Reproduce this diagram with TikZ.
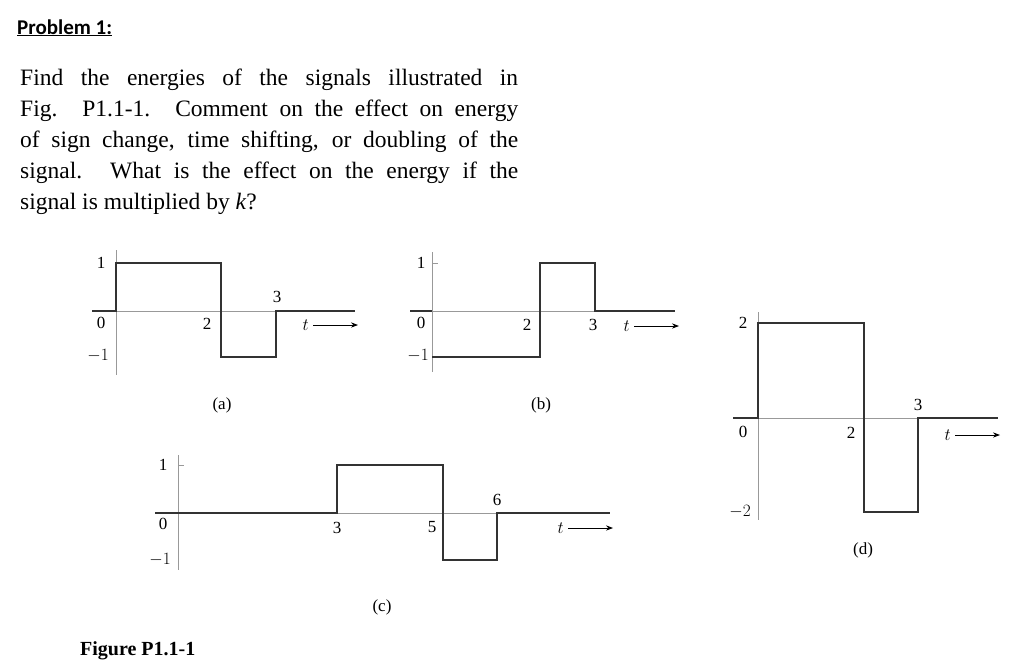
\documentclass[tikz,border=0pt]{standalone}
\usepackage{fontspec}
\setmainfont{Liberation Serif}
\newfontfamily\calib{Carlito}
\usetikzlibrary{arrows.meta}
\tikzset{
  axisline/.style={draw=gray!80, line width=0.9pt},
  sigline/.style={draw=black!80, line width=2.4pt, line join=miter},
  lbl/.style={font=\fontsize{17}{17}\selectfont, inner sep=1pt},
  para/.style={anchor=base west, inner sep=0pt, font=\fontsize{23.5}{30}\selectfont},
  tarrow/.style={-{Stealth[length=7pt]}, line width=0.8pt}
}
\newcommand{\tlabel}[2]{% t-> label at point
  \node[lbl, anchor=east] (#2t) at (#1) {$t$};
  \coordinate (#2e) at ($(#1)+(48,0)$);
  \draw[tarrow] ([xshift=3pt]#2t.east) -- (#2e);
}
\usetikzlibrary{calc}
\begin{document}
\begin{tikzpicture}[x=1pt,y=-1pt]
\useasboundingbox (0,0) rectangle (1024,670);
% heading
\node[anchor=base west, inner sep=0pt, font=\calib\bfseries\fontsize{21}{21}\selectfont] (head) at (17,34) {\underline{Problem 1:}};
\node[para] (l1) at (20,85) {\makebox[498pt][s]{Find the energies of the signals illustrated in}};
\node[para] (l2) at (20,116) {\makebox[498pt][s]{Fig. P1.1-1. Comment on the effect on energy}};
\node[para] (l3) at (20,147) {\makebox[498pt][s]{of sign change, time shifting, or doubling of the}};
\node[para] (l4) at (20,178) {\makebox[498pt][s]{signal. What is the effect on the energy if the}};
\node[para] (l5) at (20,209) {signal is multiplied by \textit{k}?};

% (a)
\draw[axisline] (116,250) -- (116,375);
\draw[axisline] (92,311) -- (355,311);
\draw[sigline] (92,311) -- (116,311) -- (116,263) -- (221,263) -- (221,357) -- (276,357) -- (276,311) -- (355,311);
\node[lbl] (a1) at (101,263) {1};
\node[lbl] (a0) at (101,323) {0};
\node[lbl] (am) at (98,356) {$-1$};
\node[lbl] (a2) at (207,324) {2};
\node[lbl] (a3) at (277,297) {3};
\tlabel{310,325}{a}
\node[lbl] (acap) at (222,405) {(a)};

% (b)
\draw[axisline] (432,252) -- (432,372);
\draw[axisline] (410,311) -- (675,311);
\draw[axisline] (432,263) -- (438,263);
\draw[sigline] (410,311) -- (432,311);
\draw[sigline] (432,357) -- (540,357) -- (540,263) -- (595,263) -- (595,311) -- (675,311);
\node[lbl] (b1) at (421,263) {1};
\node[lbl] (b0) at (421,323) {0};
\node[lbl] (bm) at (418,356) {$-1$};
\node[lbl] (b2) at (527,325) {2};
\node[lbl] (b3) at (593,325) {3};
\tlabel{631,326}{b}
\node[lbl] (bcap) at (541,405) {(b)};

% (c)
\draw[axisline] (178,455) -- (178,570);
\draw[axisline] (155,513) -- (610,513);
\draw[axisline] (178,465) -- (184,465);
\draw[sigline] (155,513) -- (337,513) -- (337,465) -- (443,465) -- (443,560) -- (497,560) -- (497,513) -- (610,513);
\node[lbl] (c1) at (163,465) {1};
\node[lbl] (c0) at (163,524) {0};
\node[lbl] (cm) at (160,560) {$-1$};
\node[lbl] (c3) at (337,528) {3};
\node[lbl] (c5) at (432,527) {5};
\node[lbl] (c6) at (497,500) {6};
\tlabel{565,528}{c}
\node[lbl] (ccap) at (382,607) {(c)};

% (d)
\draw[axisline] (758,312) -- (758,520);
\draw[axisline] (733,418) -- (998,418);
\draw[sigline] (733,418) -- (758,418) -- (758,323) -- (864,323) -- (864,512) -- (918,512) -- (918,418) -- (998,418);
\node[lbl] (d2y) at (743,323) {2};
\node[lbl] (d0) at (743,432) {0};
\node[lbl] (dm) at (740,512) {$-2$};
\node[lbl] (d2) at (851,433) {2};
\node[lbl] (d3) at (918,405) {3};
\tlabel{952,435}{d}
\node[lbl] (dcap) at (863,550) {(d)};

\node[anchor=base west, inner sep=0pt, font=\bfseries\fontsize{20}{20}\selectfont] (fig) at (80,655) {Figure P1.1-1};
\end{tikzpicture}
\end{document}
